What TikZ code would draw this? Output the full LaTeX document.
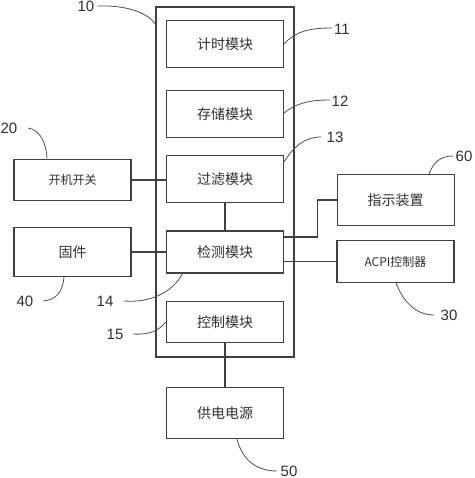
\documentclass[tikz,border=0pt]{standalone}
\usepackage{fontspec}
\setmainfont{Liberation Sans}
\newfontfamily\cjk{Noto Sans CJK SC}
\begin{document}
\begin{tikzpicture}[x=1pt,y=-1pt,
  box/.style={draw=linec, line width=1.1pt, minimum width=117.4pt, inner sep=0pt, font=\cjk\fontsize{14}{14}\selectfont, text=txtc},
  smallbox/.style={box, font=\cjk\fontsize{12}{12}\selectfont},
  wire/.style={draw=linec, line width=1.1pt},
  lead/.style={draw=leadc, line width=0.8pt},
  num/.style={font=\fontsize{15}{15}\selectfont, text=txtc, inner sep=0pt}]
\definecolor{linec}{HTML}{404040}
\definecolor{leadc}{HTML}{505050}
\definecolor{txtc}{HTML}{303030}
\useasboundingbox (0,0) rectangle (474,478);
% outer box
\node[draw=linec, line width=1.1pt, minimum width=138pt, minimum height=350pt, inner sep=0pt] (b10) at (225,182) {};
% inner modules
\node[box, minimum height=46.6pt] (b11) at (225,44) {计时模块};
\node[box, minimum height=46.6pt] (b12) at (225,114) {存储模块};
\node[box, minimum height=46.7pt] (b13) at (225,179.3) {过滤模块};
\node[box, minimum height=42pt] (b14) at (225,252) {检测模块};
\node[box, minimum height=41.7pt] (b15) at (225,322) {控制模块};
\node[box, minimum height=51.7pt] (b50) at (225,413) {供电电源};
% outside boxes
\node[smallbox, minimum width=117pt, minimum height=41.7pt] (b20) at (72.5,180) {开机开关};
\node[box, minimum width=117pt, minimum height=48.3pt] (b40) at (72.5,252) {固件};
\node[box, minimum width=117.3pt, minimum height=51.7pt] (b60) at (395.7,200) {指示装置};
\node[smallbox, minimum width=117pt, minimum height=41.6pt] (b30) at (395.5,261.5) {ACPI控制器};
% connectors
\draw[wire] (b20.east) -- (b20.east -| b13.west);
\draw[wire] (b40.east) -- (b40.east -| b14.west);
\draw[wire] (b13.south) -- (b14.north);
\draw[wire] (b15.south) -- (b50.north);
\draw[wire] ([yshift=-6.5pt]b14.north east) -- ++(33,0) |- (b60.west);
\draw[wire] (b14.east |- b30.west) -- (b30.west);
% labels
\node[num] (l10) at (86,6) {10};
\node[num] (l11) at (342,29) {11};
\node[num] (l12) at (340,101) {12};
\node[num] (l13) at (335,137) {13};
\node[num] (l60) at (464,156) {60};
\node[num] (l20) at (9,128) {20};
\node[num] (l40) at (25,301) {40};
\node[num] (l14) at (105,301) {14};
\node[num] (l15) at (115,334) {15};
\node[num] (l30) at (449,315) {30};
\node[num] (l50) at (289,471) {50};
% leader lines
\draw[lead] (l10.east) ++(3,0) .. controls (130,5) and (148,14) .. (b10.north west |- 0,24);
\draw[lead] (284,44) .. controls (296,31) and (310,28) .. (332,28);
\draw[lead] (284,113) .. controls (296,103) and (310,100) .. (330,100);
\draw[lead] (284,162) .. controls (294,146) and (305,137) .. (321,137);
\draw[lead] (429,174) .. controls (433,163) and (440,156) .. (453,156);
\draw[lead] (28,128) .. controls (40,130) and (46,142) .. (47,158.5);
\draw[lead] (43,301) .. controls (56,300) and (63,292) .. (64,276.5);
\draw[lead] (124,301) .. controls (150,303) and (172,293) .. (183,273);
\draw[lead] (133,334) .. controls (150,335) and (158,331) .. (166,322);
\draw[lead] (396,282.5) .. controls (402,300) and (415,315) .. (434,315);
\draw[lead] (237,439) .. controls (241,455) and (252,471) .. (277,471);
\end{tikzpicture}
\end{document}
